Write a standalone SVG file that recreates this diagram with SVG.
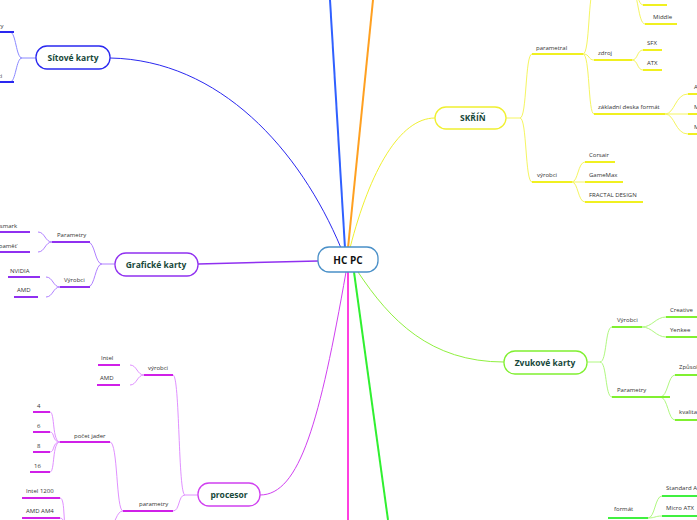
<svg xmlns="http://www.w3.org/2000/svg" width="697" height="520" viewBox="0 0 697 520">
<style>
.n{font-family:"Open Sans","DejaVu Sans",sans-serif;font-size:8.5px;font-weight:bold;fill:#17483a;text-anchor:middle}
.l{font-family:"Open Sans","DejaVu Sans",sans-serif;font-size:6px;fill:#333}
.c{fill:none;stroke-width:1}
.u{fill:none;stroke-width:2}
.box{fill:#fff;stroke-width:1.3}
</style>
<rect width="697" height="520" fill="#fff"/>
<g id="connectors">
<path d="M345,248 L330,0" stroke="#3060ff" stroke-width="2" fill="none"/>
<path d="M348,248 L373,0" stroke="#ffa020" stroke-width="2" fill="none"/>
<path d="M110,58 C220,60 300,150 341,248" stroke="#2a28f0" class="c" stroke-width="1.5"/>
<path d="M435,118 C400,118 370,170 350,248" stroke="#f0f030" class="c" stroke-width="1.5"/>
<path d="M198,264 L318,261" stroke="#9030f0" stroke-width="1.5" fill="none"/>
<path d="M260,495 C300,495 320,420 346,272" stroke="#d040f0" class="c" stroke-width="1.5"/>
<path d="M348,272 L348,520" stroke="#ff40e0" stroke-width="2" fill="none"/>
<path d="M354,272 L388,520" stroke="#30f030" stroke-width="2" fill="none"/>
<path d="M504,362 C430,362 390,320 358,272" stroke="#90f040" class="c" stroke-width="1.5"/>
<!-- Sitove -->
<g stroke="#2a28f0">
<path class="c" stroke="#8a88ff" d="M36,58 H22 C16,58 16,32 10,32 M22,58 C16,58 16,82 10,82"/>
<path class="u" d="M0,32 H14 M0,82 H14"/>
</g>
<!-- Graficke -->
<g>
<path class="c" stroke="#b080ff" d="M115,264 H102 C95,264 95,242 88,242 M102,264 C95,264 95,287 88,287 M52,242 C45,242 45,232 38,232 M52,242 C45,242 45,252 38,252 M60,287 C53,287 53,277 46,277 M60,287 C53,287 53,297 46,297"/>
<path class="u" stroke="#9030f0" d="M52,242 H90 M60,287 H90 M0,232 H30 M0,252 H30 M8,277 H40 M14,297 H38"/>
</g>
<!-- procesor -->
<g>
<path class="c" stroke="#e090ff" d="M198,495 H185 C178,495 180,375 173,375 M185,495 C178,495 180,511 173,511 M144,375 C137,375 137,365 130,365 M144,375 C137,375 137,385 130,385 M123,511 C116,511 118,442 110,442 M123,511 C116,511 116,525 110,525 M60,442 C52,442 55,412 50,412 M60,442 C52,442 55,432 50,432 M60,442 C52,442 55,452 50,452 M60,442 C52,442 55,472 50,472 M68,530 C62,530 66,498 60,498 M68,530 C62,530 66,518 60,518"/>
<path class="u" stroke="#d020e8" d="M144,375 H173 M98,365 H120 M97,385 H120 M123,511 H173 M60,442 H110 M33,412 H50 M33,432 H50 M33,452 H50 M30,472 H50 M22,498 H60 M22,518 H60"/>
</g>
<!-- Skrin -->
<g>
<path class="c" stroke="#f5f560" d="M506,118 H520 C527,118 525,54 532,54 M520,118 C527,118 525,182 532,182 M583,54 C590,54 588,-10 594,-10 M583,54 C590,54 588,60 594,60 M583,54 C590,54 588,114 594,114 M632,60 C638,60 637,50 643,50 M632,60 C638,60 637,70 643,70 M632,-10 C638,-10 638,5 643,5 M632,-10 C638,-10 638,24 645,24 M665,114 C675,114 675,94 688,94 M665,114 H688 M665,114 C675,114 675,134 688,134 M572,182 C578,182 578,162 585,162 M572,182 H585 M572,182 C578,182 578,202 585,202"/>
<path class="u" stroke="#f0f020" d="M532,54 H583 M532,182 H572 M594,60 H632 M594,114 H665 M643,50 H662 M643,70 H662 M643,5 H667 M645,24 H677 M688,94 H697 M688,114 H697 M688,134 H697 M585,162 H615 M585,182 H623 M585,202 H643"/>
</g>
<!-- Zvukove -->
<g>
<path class="c" stroke="#b0f880" d="M587,362 H600 C607,362 605,327 612,327 M600,362 C607,362 605,397 612,397 M642,327 C652,327 656,317 666,317 M642,327 C652,327 656,337 666,337 M660,397 C668,397 668,375 675,375 M660,397 C668,397 668,420 675,420 M648,518 C655,518 655,496 662,496 M648,518 C655,518 655,516 662,516"/>
<path class="u" stroke="#80f030" d="M612,327 H642 M612,397 H670 M666,317 H697 M666,337 H697 M675,375 H697 M675,420 H697"/>
<path class="u" stroke="#40f040" d="M608,518 H648 M662,496 H697 M662,516 H697"/>
</g>
</g>
<g id="hc"><rect class="box" x="318" y="247" width="60" height="25" rx="11" stroke="#4a90c8"/><text class="n" x="348" y="264" style="fill:#111;font-size:10px">HC PC</text></g>
<g id="sitove"><rect class="box" x="36" y="46" width="74" height="23" rx="11" stroke="#2a28f0"/><text class="n" x="73" y="61">Sítové karty</text></g>
<g id="graficke"><rect class="box" x="115" y="253" width="83" height="23" rx="11" stroke="#9030f0"/><text class="n" x="156" y="268">Grafické karty</text></g>
<g id="procesor"><rect class="box" x="198" y="483" width="62" height="23" rx="11" stroke="#d040f0"/><text class="n" x="229" y="498">procesor</text></g>
<g id="skrin"><rect class="box" x="435" y="107" width="71" height="22" rx="11" stroke="#f0f030"/><text class="n" x="460" y="121" style="text-anchor:start">SKŘÍŇ</text></g>
<g id="zvukove"><rect class="box" x="504" y="351" width="83" height="23" rx="11" stroke="#80f030"/><text class="n" x="545" y="366">Zvukové karty</text></g>
<g id="labels" class="l">
<text x="-2" y="28">ry</text><text x="-2" y="78">ci</text>
<text x="-10" y="228">Passmark</text><text x="-8" y="248">ní paměť</text><text x="57" y="237">Parametry</text><text x="64" y="282">Výrobci</text><text x="10" y="273">NVIDIA</text><text x="17" y="292">AMD</text>
<text x="101" y="360">Intel</text><text x="100" y="380">AMD</text><text x="148" y="370">výrobci</text><text x="74" y="438">počet jader</text><text x="139" y="506">parametry</text>
<text x="37" y="408">4</text><text x="37" y="428">6</text><text x="37" y="448">8</text><text x="34" y="468">16</text><text x="26" y="493">Intel 1200</text><text x="26" y="513">AMD AM4</text>
<text x="536" y="50">parametral</text><text x="537" y="177">výrobci</text><text x="598" y="55">zdroj</text><text x="598" y="109">základní deska formát</text>
<text x="647" y="45">SFX</text><text x="647" y="65">ATX</text><text x="653" y="19">Middle</text><text x="694" y="89">A</text><text x="694" y="109">M</text><text x="694" y="129">M</text>
<text x="589" y="157">Corsair</text><text x="589" y="177">GameMax</text><text x="589" y="197">FRACTAL DESIGN</text>
<text x="617" y="322">Výrobci</text><text x="617" y="392">Parametry</text><text x="670" y="312">Creative</text><text x="670" y="332">Yenkee</text><text x="679" y="369">Způsob</text><text x="679" y="414">kvalita</text>
<text x="614" y="511">formát</text><text x="666" y="490">Standard A</text><text x="666" y="510">Micro ATX</text>
</g>
</svg>
